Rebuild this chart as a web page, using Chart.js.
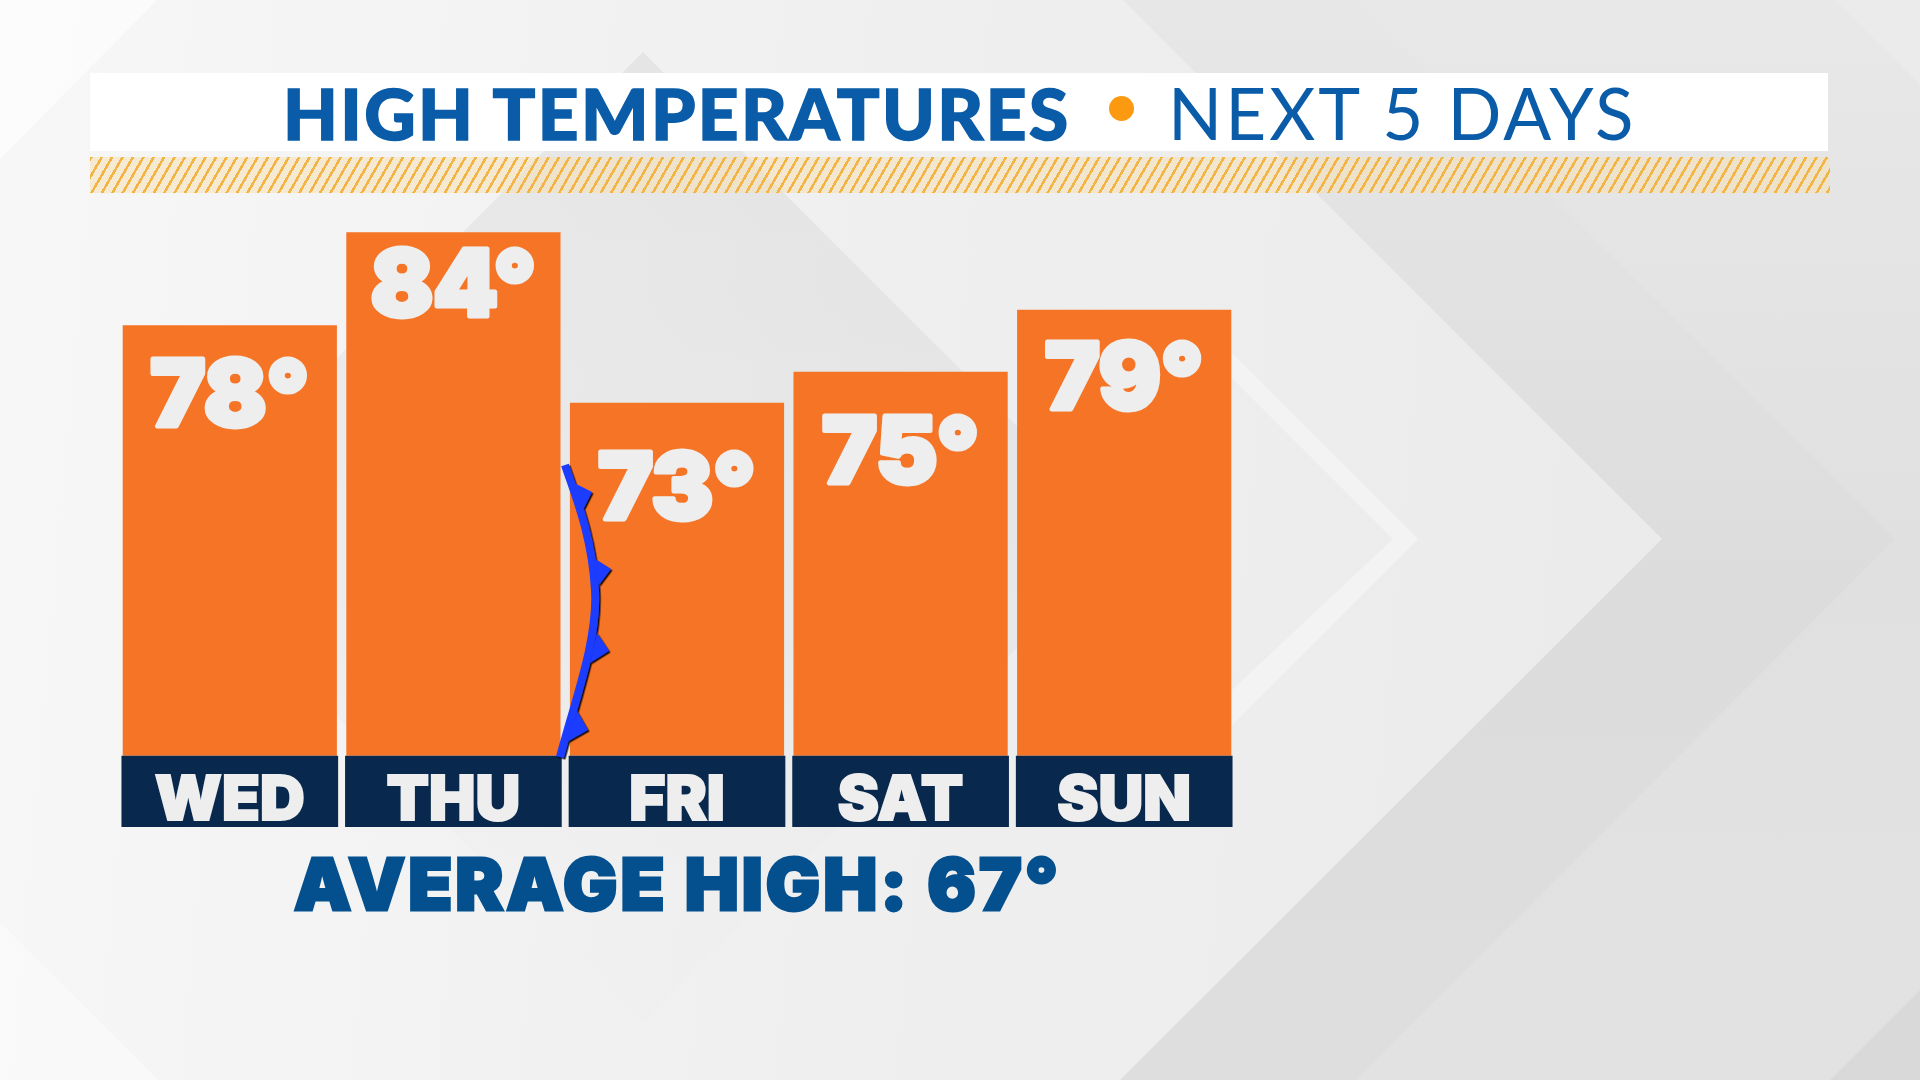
<!DOCTYPE html>
<html>
<head>
<meta charset="utf-8">
<title>High temperatures</title>
<script src="https://cdn.jsdelivr.net/npm/chart.js@4"></script>
<style>
  html, body { margin: 0; padding: 0; background: #e6e6e6; overflow: hidden; }
  #stage { position: relative; width: 1920px; height: 1080px; overflow: hidden;
           background: linear-gradient(95deg, #f7f7f7 0%, #efefef 45%, #ebebeb 85%); }
  #stage svg, #chartWrap { position: absolute; left: 0; top: 0; width: 1920px; height: 1080px; }
  #band { position: absolute; left: 90px; top: 73px; width: 1738px; height: 78px; background: #fff; }
  #band span { position: absolute; top: 0; line-height: 80px; font-family: Lato, sans-serif; font-size: 71px; color: #0a5ca8; white-space: nowrap; }
  #titleA { left: 193px; font-weight: 900; letter-spacing: 2.4px; -webkit-text-stroke: 1.5px #0a5ca8; }
  #titleB { left: 1078px; letter-spacing: 3px; }
  #dot { position: absolute; left: 1019px; top: 23px; width: 25px; height: 25px; border-radius: 50%; background: #fb9a10; }
  #hatch { position: absolute; left: 90px; top: 157px; width: 1740px; height: 36px; background-color: rgba(246, 226, 180, 0.55);
           background-image: repeating-linear-gradient(120deg, #f2b544 0 2.5px, transparent 2.5px 9px); }
  #avg { position: absolute; left: 294px; top: 842px; font-family: Inter, sans-serif; font-weight: 900; font-size: 72px;
         line-height: 84px; letter-spacing: 3px; color: #04508f; white-space: nowrap; -webkit-text-stroke: 3px #04508f; }
</style>
</head>
<body>
<div id="stage">
  <svg viewBox="0 0 1920 1080">
    <defs>
      <linearGradient id="fade" x1="0" y1="0" x2="0" y2="1">
        <stop offset="0" stop-color="#000" stop-opacity="0.05"/>
        <stop offset="0.6" stop-color="#000" stop-opacity="0.03"/>
        <stop offset="0.85" stop-color="#000" stop-opacity="0.005"/>
      </linearGradient>
      <linearGradient id="darkBand" x1="0" y1="0" x2="0" y2="1">
        <stop offset="0" stop-color="#e7e7e7"/>
        <stop offset="0.55" stop-color="#dcdcdc"/>
        <stop offset="1" stop-color="#dedede"/>
      </linearGradient>
      <linearGradient id="rightBand" x1="0" y1="0" x2="0" y2="1">
        <stop offset="0" stop-color="#e8e8e8"/>
        <stop offset="0.5" stop-color="#e0e0e0"/>
        <stop offset="1" stop-color="#e2e2e2"/>
      </linearGradient>
    </defs>
    <polygon points="0,0 157,0 0,159" fill="#ffffff" fill-opacity="0.6"/>
    <polygon points="0,922 158,1080 0,1080" fill="#ffffff" fill-opacity="0.4"/>
    <polygon points="643,52 1128,537 643,1022 158,537" fill="url(#fade)"/>
    <polygon points="1123,0 1920,0 1920,1080 1120,1080 1662,539" fill="url(#darkBand)"/>
    <polygon points="1356,0 1920,0 1920,1080 1356,1080 1895,539" fill="url(#rightBand)"/>
    <polygon points="1835,0 1920,0 1920,85" fill="#ebebeb"/>
    <polygon points="1920,990 1920,1080 1830,1080" fill="#d9d9d9"/>
    <polygon points="1232,353 1418,539 1232,725 1232,690 1393,539 1232,378" fill="#f3f3f3"/>
  </svg>
  <div id="band"><span id="titleA">HIGH TEMPERATURES</span><div id="dot"></div><span id="titleB">NEXT 5 DAYS</span></div>
  <div id="hatch"></div>
  <div id="chartWrap"><canvas id="chart" width="1920" height="1080"></canvas></div>
  <div id="avg"></div>
  <svg viewBox="0 0 1920 1080">
    <defs><filter id="sh"><feDropShadow dx="1.5" dy="1.5" stdDeviation="0.5" flood-color="#000" flood-opacity="0.9"/></filter></defs>
    <g filter="url(#sh)" fill="#1a3cff">
      <path d="M565,465 C575,495 592,535 595,590 C598,640 575,700 560,757" fill="none" stroke="#1a3cff" stroke-width="8"/>
      <polygon points="574,483 592,492 583,510"/>
      <polygon points="592,557 611,569 599,585"/>
      <polygon points="597,633 609,651 590,663"/>
      <polygon points="577,711 588,730 567,742"/>
    </g>
  </svg>
</div>
<script>
const days = ['WED', 'THU', 'FRI', 'SAT', 'SUN'];
const highs = [78, 84, 73, 75, 79];
const averageHigh = 67;

const baseValue = 50.2;
const axisBottom = 45.6;
const axisTop = 99;
// baseline of the number below the bar top, the graphic does not keep it constant
const labelDrop = [103, 86, 118, 113, 101];

document.getElementById('avg').textContent = 'AVERAGE HIGH: ' + averageHigh + '°';

const valueLabels = {
  id: 'valueLabels',
  afterDatasetsDraw(chart) {
    const ctx = chart.ctx;
    const bars = chart.getDatasetMeta(1).data;
    ctx.save();
    ctx.fillStyle = '#eeeeee';
    ctx.strokeStyle = '#eeeeee';
    ctx.lineWidth = 5;
    ctx.lineJoin = 'round';
    ctx.font = '900 92px Inter';
    ctx.textAlign = 'center';
    ctx.textBaseline = 'alphabetic';
    bars.forEach(function(bar, i) {
      ctx.strokeText(highs[i] + '°', bar.x, bar.y + labelDrop[i] - 2);
      ctx.fillText(highs[i] + '°', bar.x, bar.y + labelDrop[i] - 2);
    });
    ctx.restore();
  }
};

new Chart(document.getElementById('chart'), {
  type: 'bar',
  data: {
    labels: days,
    datasets: [
      {
        data: days.map(function() { return [axisBottom, baseValue]; }),
        backgroundColor: '#08294d',
        barPercentage: 0.969,
        categoryPercentage: 1,
        grouped: false
      },
      {
        data: highs.map(function(v) { return [baseValue, v]; }),
        backgroundColor: '#f57426',
        barPercentage: 0.958,
        categoryPercentage: 1,
        grouped: false
      }
    ]
  },
  options: {
    responsive: false,
    animation: false,
    layout: { padding: { left: 118, right: 684, top: 0, bottom: 253 } },
    plugins: { legend: { display: false }, tooltip: { enabled: false } },
    scales: {
      x: {
        border: { display: false },
        grid: { display: false },
        ticks: {
          z: 1,
          color: '#eeeeee',
          textStrokeColor: '#eeeeee',
          textStrokeWidth: 2,
          padding: -71,
          maxRotation: 0,
          font: { family: 'Inter', weight: '900', size: 62 }
        }
      },
      y: {
        display: false,
        min: axisBottom,
        max: axisTop
      }
    }
  },
  plugins: [valueLabels]
});
</script>
</body>
</html>
